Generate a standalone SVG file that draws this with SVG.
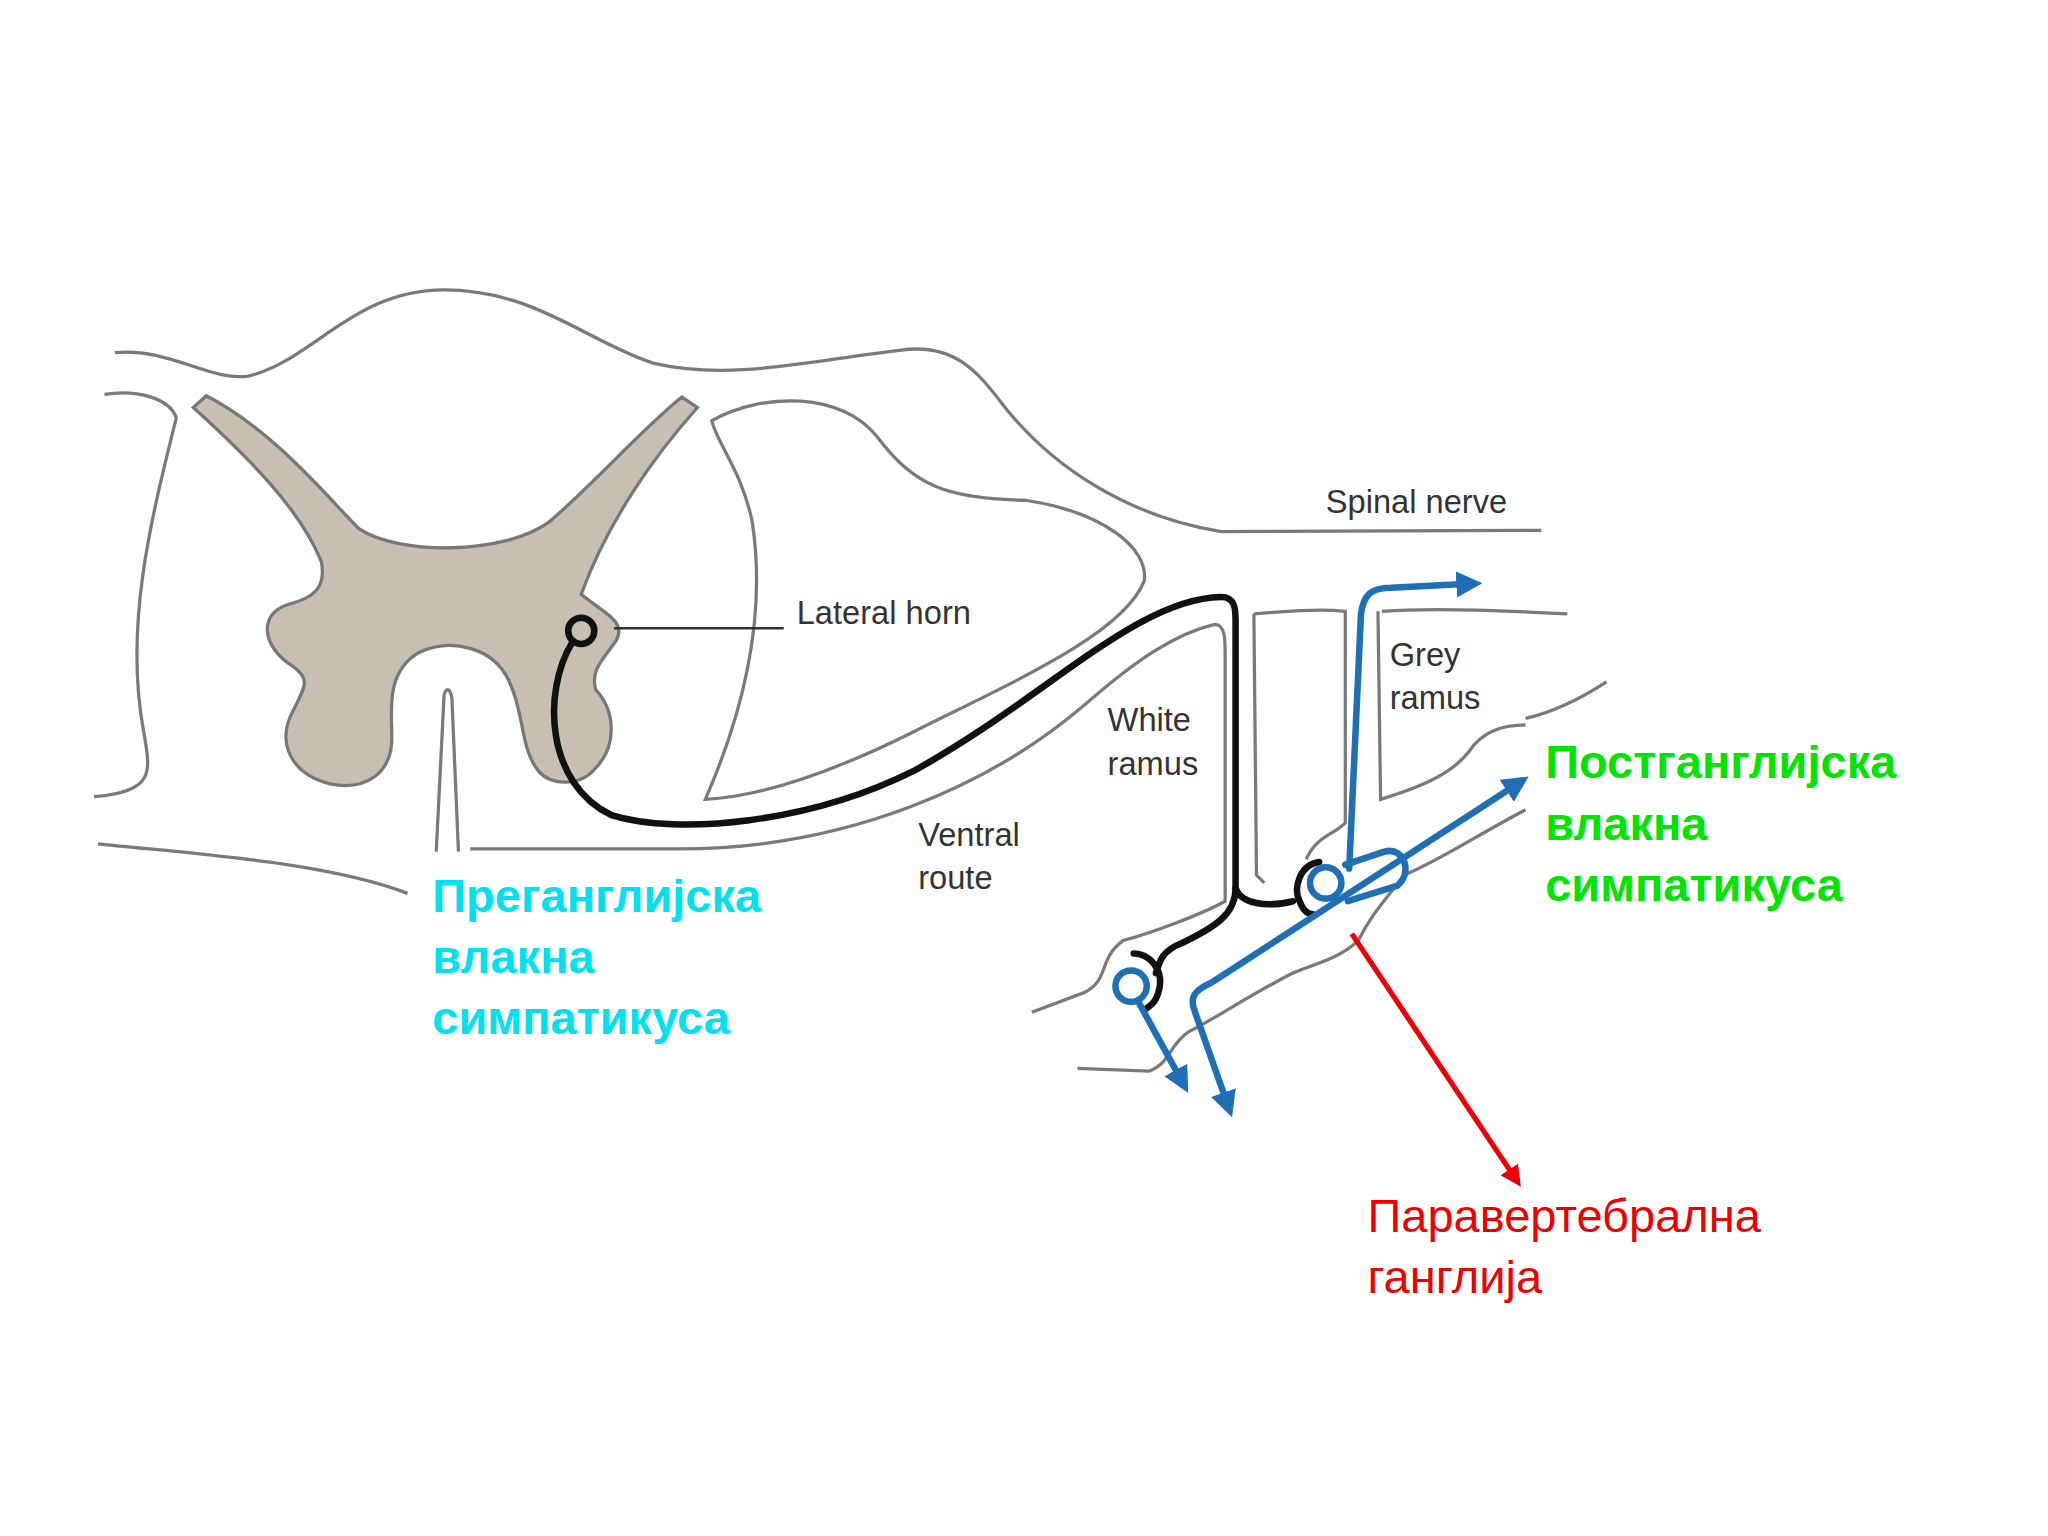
<svg xmlns="http://www.w3.org/2000/svg" width="2048" height="1536" viewBox="0 0 2048 1536">
<style>
.o{fill:none;stroke:#7a7a7a;stroke-width:2.5}
.k{fill:none;stroke:#111;stroke-width:5;stroke-linecap:round;stroke-linejoin:round}
.b{fill:none;stroke:#1f6fb4;stroke-width:5;stroke-linecap:round;stroke-linejoin:round}
.lab{font-family:"Liberation Sans",Arial,sans-serif;font-size:25px;fill:#333}
.big{font-family:"Liberation Sans",Arial,sans-serif;font-size:36px;font-weight:bold}
</style>
<defs>
<marker id="ab" viewBox="0 0 10 10" refX="5" refY="5" markerWidth="4" markerHeight="4" orient="auto-start-reverse"><path d="M0,0 L10,5 L0,10 Z" fill="#1f6fb4"/></marker>
<marker id="ar" viewBox="0 0 10 10" refX="5" refY="5" markerWidth="4" markerHeight="4" orient="auto"><path d="M0,0 L10,5 L0,10 Z" fill="#e00"/></marker>
</defs>
<rect width="2048" height="1536" fill="#fff"/>
<g transform="scale(1.30612)">
<g id="anatomy">
<path class="o" d="M88,270 C130,266 160,292 190,288 C240,276 270,222 340,222 C410,222 450,262 500,278 C560,292 620,276 690,268 C735,262 752,290 772,315 C805,355 860,395 935,407 L1180,406"/>
<path class="o" d="M80,302 C105,298 130,305 135,320 C115,400 95,480 110,560 C115,590 120,606 72,610"/>
<path class="o" d="M545,322 C585,300 645,300 672,335 C700,372 725,382 785,383 C845,392 880,420 876,445 C860,485 780,520 700,560 C630,595 580,610 540,612 C565,555 588,480 576,400 C568,360 548,338 545,322 Z"/>
<path d="M148,312 L158,303 C210,330 250,380 275,405 C305,425 385,425 420,400 C455,370 490,330 522,304 L534,312 C500,350 465,400 445,455 C460,468 480,475 472,490 C462,505 452,512 456,528 C472,545 472,572 456,588 C445,602 422,602 412,590 C398,572 402,548 390,522 C378,495 345,488 320,500 C295,515 300,545 300,565 C300,592 280,606 252,600 C222,592 212,568 224,545 C234,525 238,520 224,510 C200,495 198,470 220,463 C240,458 250,450 246,430 C230,390 190,350 148,312 Z" fill="#c7bfb1" stroke="#777" stroke-width="2.5"/>
<path class="o" d="M334,652 L340,532 C342,525 345,528 346,535 L351,652"/>
<path class="o" d="M75,646 C150,654 250,660 312,684"/>
<path class="o" d="M360,650 L520,650 C650,650 760,600 830,540 C870,505 900,485 930,478 C938,478 938,490 938,500 L938,690 C920,700 880,715 860,720 C840,735 850,750 830,760 L790,775"/>
<path class="o" d="M960,470 C985,468 1010,466 1030,468 L1030,630 C1020,640 1008,640 1000,658"/>
<path class="o" d="M960,470 L962,670 L968,676"/>
<path class="o" d="M1058,468 C1100,465 1160,468 1200,470"/>
<path class="o" d="M1055,468 L1057,612 C1080,605 1110,595 1125,575 C1135,560 1150,555 1168,555"/>
<path class="o" d="M1230,522 C1210,535 1190,545 1168,550"/>
<path class="o" d="M1168,620 C1130,640 1100,660 1075,670 C1060,690 1050,700 1040,720 C1025,735 1000,740 990,745 C960,760 930,780 910,790 C895,800 895,815 880,820 L825,818"/>
</g>
<g id="connectors">
<circle cx="445" cy="483" r="10" fill="none" stroke="#111" stroke-width="5"/>
<line x1="470" y1="481" x2="600" y2="481" stroke="#333" stroke-width="2"/>
<path class="k" d="M438,492 C415,530 418,600 468,624 C520,640 620,630 700,590 C800,535 870,458 935,457 C945,457 946,465 946,475 L946,680 C946,700 930,710 905,722 C890,728 888,735 885,745"/>
<path class="k" d="M946,680 C950,692 970,695 990,690"/>
<path class="k" d="M868,730 C880,730 890,742 888,755 C886,768 880,770 878,772"/>
<path class="k" d="M1010,660 C995,662 990,680 995,690 C998,698 1002,700 1005,700"/>
<circle cx="1015" cy="676" r="12" fill="#fff" stroke="#1f6fb4" stroke-width="5"/>
<path class="b" d="M1030,662 L1060,652 C1075,648 1082,668 1070,678 L1032,690"/>
<path class="b" d="M1033,665 L1042,470 C1044,455 1050,450 1065,450 L1125,447" marker-end="url(#ab)"/>
<path class="b" d="M940,846 L915,775 C910,763 915,758 928,752 L1162,600" marker-start="url(#ab)" marker-end="url(#ab)"/>
<circle cx="866" cy="755" r="12" fill="#fff" stroke="#1f6fb4" stroke-width="5"/>
<path class="b" d="M871,766 L905,828" marker-end="url(#ab)"/>
<line x1="1035" y1="715" x2="1160" y2="902" stroke="#e00" stroke-width="4" marker-end="url(#ar)"/>
</g>
<g id="labels">
<text class="lab" x="610" y="478">Lateral horn</text>
<text class="lab" x="1015" y="393">Spinal nerve</text>
<text class="lab" x="848" y="560">White</text>
<text class="lab" x="848" y="593">ramus</text>
<text class="lab" x="1064" y="510">Grey</text>
<text class="lab" x="1064" y="543">ramus</text>
<text class="lab" x="703" y="648">Ventral</text>
<text class="lab" x="703" y="681">route</text>
<text class="big" fill="#00e0ee" x="331" y="698">Преганглијска</text>
<text class="big" fill="#00e0ee" x="331" y="745">влакна</text>
<text class="big" fill="#00e0ee" x="331" y="792">симпатикуса</text>
<text class="big" fill="#00e400" x="1183" y="596">Постганглијска</text>
<text class="big" fill="#00e400" x="1183" y="643">влакна</text>
<text class="big" fill="#00e400" x="1183" y="690">симпатикуса</text>
<text class="big" style="font-weight:normal" fill="#e00" x="1047" y="943">Паравертебрална</text>
<text class="big" style="font-weight:normal" fill="#e00" x="1047" y="990">ганглија</text>
</g>
</g>
</svg>
